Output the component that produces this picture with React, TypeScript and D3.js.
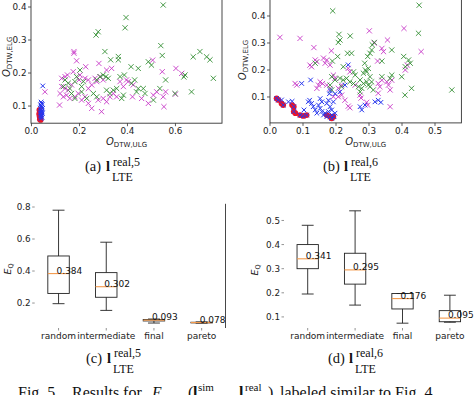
import * as d3 from 'd3';

type Pt = [number, number];
type Box = { lo: number; q1: number; med: number; q3: number; hi: number };

// ---- scatter (a): l_LTE^{real,5}
const aMagenta: Pt[] = [
  [0.177, 0.265], [0.177, 0.26], [0.188, 0.237], [0.281, 0.229], [0.226, 0.219], [0.174, 0.204],
  [0.15, 0.194], [0.14, 0.189], [0.126, 0.184], [0.223, 0.184], [0.237, 0.179], [0.265, 0.184],
  [0.272, 0.174], [0.198, 0.179], [0.251, 0.164], [0.237, 0.153], [0.126, 0.159], [0.14, 0.153],
  [0.153, 0.148], [0.167, 0.164], [0.119, 0.138], [0.133, 0.128], [0.146, 0.133], [0.16, 0.123],
  [0.195, 0.138], [0.181, 0.128], [0.223, 0.128], [0.209, 0.118], [0.237, 0.108], [0.251, 0.093],
  [0.292, 0.083], [0.117, 0.103], [0.278, 0.118], [0.299, 0.123], [0.313, 0.113], [0.327, 0.128],
  [0.341, 0.138], [0.355, 0.128], [0.383, 0.159], [0.403, 0.174], [0.396, 0.179], [0.424, 0.164],
  [0.421, 0.128], [0.459, 0.123], [0.487, 0.108], [0.508, 0.133], [0.522, 0.143], [0.549, 0.128],
  [0.559, 0.143], [0.552, 0.098], [0.505, 0.239], [0.545, 0.204], [0.602, 0.214], [0.626, 0.199],
  [0.6, 0.136], [0.286, 0.189], [0.299, 0.179], [0.313, 0.209], [0.334, 0.214], [0.369, 0.174],
  [0.202, 0.194], [0.056, 0.143],
];
const aGreen: Pt[] = [
  [0.549, 0.406], [0.394, 0.368], [0.39, 0.337], [0.278, 0.325], [0.269, 0.315], [0.306, 0.265],
  [0.362, 0.25], [0.362, 0.24], [0.33, 0.24], [0.539, 0.283], [0.545, 0.253], [0.702, 0.265],
  [0.73, 0.249], [0.744, 0.24], [0.674, 0.249], [0.758, 0.184], [0.64, 0.194], [0.635, 0.188],
  [0.559, 0.179], [0.415, 0.219], [0.445, 0.214], [0.487, 0.234], [0.5, 0.224], [0.387, 0.194],
  [0.369, 0.189], [0.43, 0.179], [0.417, 0.169], [0.535, 0.153], [0.508, 0.118], [0.438, 0.143],
  [0.445, 0.153], [0.355, 0.153], [0.341, 0.148], [0.32, 0.184], [0.31, 0.189], [0.299, 0.194],
  [0.272, 0.179], [0.286, 0.189], [0.216, 0.174], [0.209, 0.159], [0.188, 0.189], [0.181, 0.174],
  [0.153, 0.169], [0.16, 0.153], [0.167, 0.138], [0.14, 0.179], [0.133, 0.159], [0.202, 0.209],
  [0.667, 0.143], [0.598, 0.138], [0.466, 0.153], [0.473, 0.138], [0.383, 0.133], [0.376, 0.123],
  [0.313, 0.148], [0.327, 0.138], [0.258, 0.138], [0.272, 0.128], [0.23, 0.123], [0.181, 0.123],
  [0.209, 0.143],
];
const aRed: Pt[] = [
  [0.033, 0.088], [0.035, 0.082], [0.032, 0.076], [0.036, 0.072], [0.034, 0.068], [0.037, 0.064],
  [0.035, 0.06], [0.038, 0.058],
];
const aBlue: Pt[] = [
  [0.04, 0.112], [0.042, 0.108], [0.038, 0.104], [0.045, 0.105], [0.04, 0.1], [0.043, 0.097],
  [0.037, 0.094], [0.046, 0.093], [0.041, 0.09], [0.039, 0.086], [0.044, 0.085], [0.042, 0.081],
  [0.036, 0.079], [0.045, 0.078], [0.04, 0.075], [0.043, 0.072], [0.038, 0.07], [0.041, 0.067],
  [0.044, 0.065], [0.04, 0.062], [0.047, 0.161],
];

// ---- scatter (b): l_LTE^{real,6}
const bMagenta: Pt[] = [
  [0.03, 0.321], [0.091, 0.317], [0.133, 0.283], [0.186, 0.271], [0.301, 0.345], [0.406, 0.354],
  [0.356, 0.311], [0.339, 0.28], [0.344, 0.268], [0.458, 0.268], [0.326, 0.233], [0.316, 0.3],
  [0.137, 0.237], [0.142, 0.231], [0.162, 0.244], [0.172, 0.237], [0.167, 0.225], [0.182, 0.218],
  [0.121, 0.218], [0.126, 0.212], [0.416, 0.218], [0.41, 0.2], [0.076, 0.15], [0.081, 0.144],
  [0.142, 0.132], [0.147, 0.144], [0.152, 0.156], [0.159, 0.15], [0.172, 0.144], [0.182, 0.132],
  [0.192, 0.181], [0.197, 0.169], [0.237, 0.206], [0.242, 0.193], [0.217, 0.144], [0.207, 0.132],
  [0.258, 0.144], [0.328, 0.15], [0.333, 0.138], [0.339, 0.162], [0.354, 0.156], [0.359, 0.144],
  [0.364, 0.126], [0.369, 0.162], [0.217, 0.107], [0.207, 0.101], [0.227, 0.088], [0.237, 0.066],
  [0.242, 0.06], [0.273, 0.107], [0.276, 0.096], [0.293, 0.08], [0.296, 0.07], [0.364, 0.064],
  [0.192, 0.101], [0.328, 0.114],
];
const bGreen: Pt[] = [
  [0.19, 0.419], [0.452, 0.44], [0.45, 0.336], [0.209, 0.332], [0.243, 0.326], [0.207, 0.302],
  [0.212, 0.311], [0.316, 0.302], [0.31, 0.293], [0.308, 0.274], [0.303, 0.262], [0.235, 0.262],
  [0.247, 0.262], [0.205, 0.25], [0.296, 0.25], [0.369, 0.274], [0.405, 0.25], [0.42, 0.237],
  [0.425, 0.225], [0.41, 0.212], [0.339, 0.233], [0.189, 0.233], [0.137, 0.225], [0.222, 0.212],
  [0.287, 0.225], [0.289, 0.2], [0.293, 0.193], [0.283, 0.188], [0.298, 0.206], [0.303, 0.175],
  [0.253, 0.193], [0.258, 0.181], [0.212, 0.169], [0.222, 0.163], [0.232, 0.169], [0.242, 0.156],
  [0.253, 0.15], [0.187, 0.175], [0.197, 0.163], [0.273, 0.163], [0.283, 0.15], [0.278, 0.132],
  [0.293, 0.156], [0.298, 0.144], [0.303, 0.138], [0.268, 0.138], [0.273, 0.119], [0.313, 0.126],
  [0.308, 0.156], [0.369, 0.181], [0.364, 0.169], [0.399, 0.175], [0.429, 0.132], [0.409, 0.107],
  [0.551, 0.126], [0.339, 0.175], [0.187, 0.126], [0.182, 0.144], [0.217, 0.138],
];
const bRed: Pt[] = [
  [0.02, 0.095], [0.025, 0.089], [0.035, 0.076], [0.04, 0.07], [0.067, 0.07], [0.072, 0.064],
  [0.072, 0.046], [0.077, 0.04], [0.091, 0.033], [0.101, 0.03], [0.111, 0.033], [0.172, 0.033],
  [0.182, 0.027], [0.187, 0.021], [0.192, 0.027],
];
const bBlue: Pt[] = [
  [0.237, 0.219], [0.123, 0.163], [0.096, 0.15], [0.067, 0.084], [0.103, 0.052], [0.12, 0.088],
  [0.116, 0.082], [0.126, 0.076], [0.131, 0.064], [0.137, 0.052], [0.142, 0.04], [0.147, 0.07],
  [0.152, 0.058], [0.157, 0.046], [0.162, 0.033], [0.167, 0.04], [0.172, 0.027], [0.157, 0.082],
  [0.152, 0.094], [0.172, 0.076], [0.177, 0.088], [0.182, 0.064], [0.187, 0.052], [0.192, 0.082],
  [0.18, 0.112], [0.182, 0.124], [0.197, 0.112], [0.177, 0.046], [0.187, 0.033], [0.194, 0.027],
  [0.197, 0.04], [0.273, 0.064], [0.278, 0.052], [0.288, 0.07], [0.318, 0.082], [0.328, 0.088],
  [0.336, 0.08], [0.227, 0.144], [0.212, 0.119], [0.035, 0.089], [0.056, 0.082], [0.072, 0.064],
  [0.025, 0.089], [0.02, 0.095], [0.04, 0.07], [0.072, 0.046], [0.091, 0.033], [0.101, 0.03],
  [0.111, 0.033], [0.182, 0.027], [0.187, 0.021],
];

// ---- box plots (c), (d)
const boxCats = ['random', 'intermediate', 'final', 'pareto'];
const cBoxes: Box[] = [
  { lo: 0.196, q1: 0.26, med: 0.384, q3: 0.494, hi: 0.78 },
  { lo: 0.154, q1: 0.236, med: 0.302, q3: 0.39, hi: 0.58 },
  { lo: 0.075, q1: 0.088, med: 0.093, q3: 0.097, hi: 0.1 },
  { lo: 0.074, q1: 0.076, med: 0.078, q3: 0.08, hi: 0.082 },
];
const dBoxes: Box[] = [
  { lo: 0.195, q1: 0.3, med: 0.341, q3: 0.4, hi: 0.48 },
  { lo: 0.149, q1: 0.236, med: 0.295, q3: 0.364, hi: 0.54 },
  { lo: 0.074, q1: 0.133, med: 0.176, q3: 0.197, hi: 0.197 },
  { lo: 0.078, q1: 0.08, med: 0.095, q3: 0.126, hi: 0.19 },
];
const cTicks = [0.2, 0.4, 0.6, 0.8];
const dTicks = [0.1, 0.2, 0.3, 0.4, 0.5];

const SANS = 'DejaVu Sans, sans-serif';
const SERIF = 'Liberation Serif, Times New Roman, serif';
const AX = '#333';
const GREEN = '#2a8a2a';
const MAGENTA = '#c42fc4';
const BLUE = '#2636ee';
const RED = '#e8142a';
const ORANGE = '#f39a4c';

function xMark(x: number, y: number, s = 2.6) {
  return `M${x - s},${y - s}L${x + s},${y + s}M${x - s},${y + s}L${x + s},${y - s}`;
}

function Scatter(props: {
  xDom: [number, number]; xR: [number, number]; yDom: [number, number]; yR: [number, number];
  xTicks: number[]; yTicks: number[]; green: Pt[]; magenta: Pt[]; red: Pt[]; blue: Pt[];
  yLabX: number;
}) {
  const x = d3.scaleLinear().domain(props.xDom).range(props.xR);
  const y = d3.scaleLinear().domain(props.yDom).range(props.yR);
  const [x0, x1] = props.xR;
  const [yb, yt] = props.yR;
  const fmt = d3.format('.1f');
  const cx = (x0 + x1) / 2;
  const cy = (yb + yt) / 2;
  return (
    <g>
      <path d={props.magenta.map(p => xMark(x(p[0]), y(p[1]))).join('')} stroke={MAGENTA} strokeWidth={1} opacity={0.85} fill="none" />
      <path d={props.green.map(p => xMark(x(p[0]), y(p[1]))).join('')} stroke={GREEN} strokeWidth={1} opacity={0.85} fill="none" />
      {props.red.map((p, i) => (
        <circle key={i} cx={x(p[0])} cy={y(p[1])} r={2.9} fill={RED} />
      ))}
      <path d={props.blue.map(p => xMark(x(p[0]), y(p[1]), 2.3)).join('')} stroke={BLUE} strokeWidth={1} fill="none" />
      <rect x={x0} y={yt} width={x1 - x0} height={yb - yt} fill="none" stroke={AX} strokeWidth={0.9} />
      {props.xTicks.map(t => (
        <g key={t}>
          <line x1={x(t)} x2={x(t)} y1={yb} y2={yb + 3} stroke={AX} strokeWidth={0.8} />
          <text x={x(t)} y={yb + 11} fontSize={8.8} textAnchor="middle" fontFamily={SANS} fill="#222">{fmt(t)}</text>
        </g>
      ))}
      {props.yTicks.map(t => (
        <g key={t}>
          <line x1={x0 - 3} x2={x0} y1={y(t)} y2={y(t)} stroke={AX} strokeWidth={0.8} />
          <text x={x0 - 4.5} y={y(t) + 3.2} fontSize={8.8} textAnchor="end" fontFamily={SANS} fill="#222">{fmt(t)}</text>
        </g>
      ))}
      <text x={cx} y={yb + 22} fontSize={10} textAnchor="middle" fontFamily={SANS} fill="#222">
        <tspan fontStyle="italic">O</tspan>
        <tspan fontSize={7} dy={2}>DTW,ULG</tspan>
      </text>
      <text transform={`translate(${props.yLabX},${cy}) rotate(-90)`} fontSize={10} textAnchor="middle" fontFamily={SANS} fill="#222">
        <tspan fontStyle="italic">O</tspan>
        <tspan fontSize={7} dy={2}>DTW,ELG</tspan>
      </text>
    </g>
  );
}

function BoxPlot(props: {
  boxes: Box[]; ticks: number[]; yDom: [number, number]; yR: [number, number];
  xR: [number, number]; yLabX: number; rightSpine: boolean;
}) {
  const x = d3.scaleLinear().domain([0.5, 4.5]).range(props.xR);
  const y = d3.scaleLinear().domain(props.yDom).range(props.yR);
  const step = x(2) - x(1);
  const bw = step * 0.45;
  const cw = step * 0.25;
  const [yb, yt] = props.yR;
  const fmt = d3.format('.3f');
  const fmt1 = d3.format('.1f');
  return (
    <g>
      {props.boxes.map((b, i) => {
        const c = x(i + 1);
        return (
          <g key={i} stroke="#222" strokeWidth={0.9} fill="none">
            <line x1={c} x2={c} y1={y(b.hi)} y2={y(b.q3)} />
            <line x1={c} x2={c} y1={y(b.lo)} y2={y(b.q1)} />
            <line x1={c - cw / 2} x2={c + cw / 2} y1={y(b.hi)} y2={y(b.hi)} />
            <line x1={c - cw / 2} x2={c + cw / 2} y1={y(b.lo)} y2={y(b.lo)} />
            <rect x={c - bw / 2} y={y(b.q3)} width={bw} height={y(b.q1) - y(b.q3)} />
            <line x1={c - bw / 2} x2={c + bw / 2} y1={y(b.med)} y2={y(b.med)} stroke={ORANGE} strokeWidth={1.1} />
            <text x={c - 2} y={y(b.med)} fontSize={9} fontFamily={SANS} fill="#111" stroke="none">{fmt(b.med)}</text>
          </g>
        );
      })}
      {props.rightSpine && (
        <line x1={props.xR[1]} x2={props.xR[1]} y1={yt} y2={yb} stroke={AX} strokeWidth={0.9} />
      )}
      {props.ticks.map(t => (
        <g key={t}>
          <line x1={props.xR[0] - 2.5} x2={props.xR[0]} y1={y(t)} y2={y(t)} stroke="#777" strokeWidth={0.8} />
          <text x={props.xR[0] - 4} y={y(t) + 3.2} fontSize={8.8} textAnchor="end" fontFamily={SANS} fill="#222">{fmt1(t)}</text>
        </g>
      ))}
      {boxCats.map((c, i) => (
        <g key={c}>
          <line x1={x(i + 1)} x2={x(i + 1)} y1={yb} y2={yb + 2.5} stroke="#777" strokeWidth={0.8} />
          <text x={x(i + 1)} y={yb + 11} fontSize={9} textAnchor="middle" fontFamily={SANS} fill="#222">{c}</text>
        </g>
      ))}
      <text transform={`translate(${props.yLabX},${(yb + yt) / 2 + 3}) rotate(-90)`} fontSize={9.5} textAnchor="middle" fontFamily={SANS} fill="#222">
        <tspan fontStyle="italic">E</tspan>
        <tspan fontSize={6.5} dy={2}>Q</tspan>
      </text>
    </g>
  );
}

function SubCaption({ x0, base, tag, sup }: { x0: number; base: number; tag: string; sup: string }) {
  return (
    <g fontFamily={SERIF} fill="#111">
      <text x={x0} y={base} fontSize={14.5}>{tag}</text>
      <text x={x0 + 21} y={base} fontSize={14.5} fontWeight="bold">l</text>
      <text x={x0 + 28} y={base - 5.5} fontSize={12}>{sup}</text>
      <text x={x0 + 27} y={base + 10} fontSize={12}>LTE</text>
    </g>
  );
}

export default function App() {
  return (
    <div style={{ position: 'absolute', left: 0, top: 0 }}>
      <svg width={474} height={395} viewBox="0 0 474 395" style={{ display: 'block', background: '#fff' }}>
        <Scatter xDom={[-0.002, 0.794]} xR={[31, 222]} yDom={[0.048, 0.45]} yR={[123.2, -9.5]}
          xTicks={[0, 0.2, 0.4, 0.6]} yTicks={[0.1, 0.2, 0.3, 0.4]}
          green={aGreen} magenta={aMagenta} red={aRed} blue={aBlue} yLabX={10} />
        <Scatter xDom={[0, 0.58]} xR={[270, 461.4]} yDom={[0.004, 0.47]} yR={[122.9, -2.9]}
          xTicks={[0, 0.1, 0.2, 0.3, 0.4, 0.5]} yTicks={[0.1, 0.2, 0.3, 0.4]}
          green={bGreen} magenta={bMagenta} red={bRed} blue={bBlue} yLabX={246} />
        <SubCaption x0={85} base={171} tag="(a)" sup="real,5" />
        <SubCaption x0={323} base={171} tag="(b)" sup="real,6" />

        <BoxPlot boxes={cBoxes} ticks={cTicks} yDom={[0.044, 0.82]} yR={[328, 203.8]}
          xR={[34.7, 225.5]} yLabX={11} rightSpine={true} />
        <BoxPlot boxes={dBoxes} ticks={dTicks} yDom={[0.054, 0.56]} yR={[328, 206]}
          xR={[284, 473.6]} yLabX={258} rightSpine={false} />
        <SubCaption x0={86} base={362.5} tag="(c)" sup="real,5" />
        <SubCaption x0={328} base={362.5} tag="(d)" sup="real,6" />

        <g fontFamily={SERIF} fill="#111" fontSize={16}>
          <text x={18} y={397.5}>Fig. 5.</text>
          <text x={72} y={397.5}>Results for</text>
          <text x={152} y={397.5} fontStyle="italic">E</text>
          <text x={164} y={402} fontSize={11}>DTW</text>
          <text x={188} y={397.5}>(</text>
          <text x={193} y={397.5} fontWeight="bold">l</text>
          <text x={198} y={391} fontSize={11}>sim</text>
          <text x={218} y={397.5}>,</text>
          <text x={239} y={397.5} fontWeight="bold">l</text>
          <text x={245} y={391} fontSize={11}>real</text>
          <text x={268} y={397.5}>)</text>
          <text x={280} y={397.5}>labeled similar to Fig. 4.</text>
        </g>
      </svg>
    </div>
  );
}
